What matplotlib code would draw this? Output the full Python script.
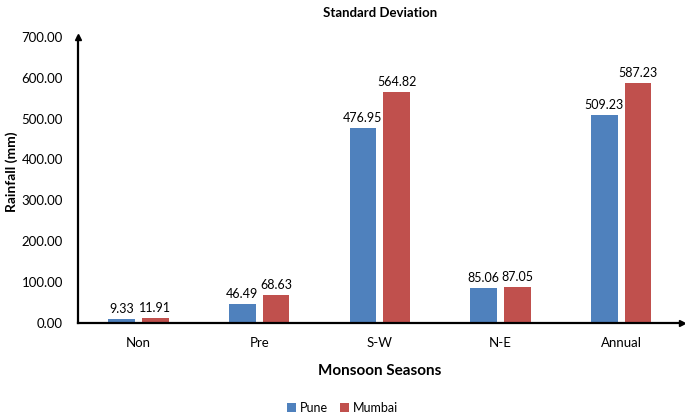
import matplotlib.pyplot as plt
import numpy as np

plt.rcParams['font.family'] = ['Lato', 'DejaVu Sans']

# datos
seasons = ['Non', 'Pre', 'S-W', 'N-E', 'Annual']
pune = [9.33, 46.49, 476.95, 85.06, 509.23]
mumbai = [11.91, 68.63, 564.82, 87.05, 587.23]

fig = plt.figure(figsize=(6.85, 4.15), dpi=100)
ax = fig.add_axes([0.114, 0.222, 0.881, 0.689])

x = np.arange(len(seasons))
w = 0.22
b1 = ax.bar(x - 0.14, pune, w, color='#4F81BD', label='Pune')
b2 = ax.bar(x + 0.14, mumbai, w, color='#C0504D', label='Mumbai')

for bars, vals in ((b1, pune), (b2, mumbai)):
    for r, v in zip(bars, vals):
        ax.annotate(f'{v:.2f}', (r.get_x() + r.get_width() / 2, v),
                    xytext=(0, 3), textcoords='offset points',
                    ha='center', va='bottom', fontsize=9)

ax.set_xlim(-0.5, 4.5)
ax.set_ylim(0, 700)
ax.set_yticks(np.arange(0, 701, 100))
ax.set_yticklabels([f'{t:.2f}' for t in np.arange(0, 701, 100)])
ax.set_xticks(x)
ax.set_xticklabels(seasons)
ax.tick_params(length=0, labelsize=9.5, pad=10)
ax.tick_params(axis='y', pad=11)

for s in ('top', 'right'):
    ax.spines[s].set_visible(False)
for s in ('left', 'bottom'):
    ax.spines[s].set_linewidth(1.6)
# flechas en los ejes
ax.plot(1, 0, '>', color='black', ms=5, transform=ax.transAxes, clip_on=False)
ax.plot(0, 1, '^', color='black', ms=5, transform=ax.transAxes, clip_on=False)

ax.set_title('Standard Deviation', fontsize=9.5, fontweight='bold', pad=14)
ax.set_xlabel('Monsoon Seasons', fontsize=11, fontweight='bold', labelpad=11)
ax.set_ylabel('Rainfall (mm)', fontsize=10, fontweight='bold')
ax.yaxis.set_label_coords(-0.1, 0.53)

fig.legend(loc='lower center', ncol=2, frameon=False, fontsize=9,
           handlelength=0.7, handleheight=0.7, handletextpad=0.3,
           columnspacing=1.0, bbox_to_anchor=(0.5, -0.025))

fig.savefig('out.png', dpi=100)
